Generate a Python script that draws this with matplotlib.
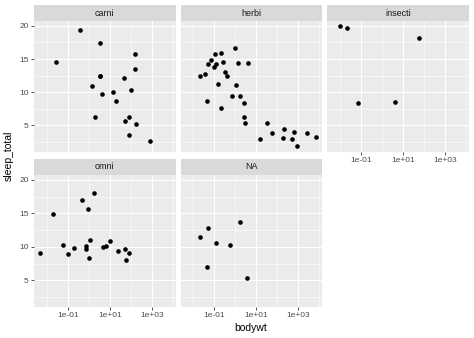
import matplotlib
matplotlib.use('Agg')
import matplotlib.pyplot as plt
from matplotlib.ticker import NullFormatter
import numpy as np

plt.rcParams['font.family'] = ['Liberation Sans', 'DejaVu Sans']

# mammal sleep data: feeding type, body weight (kg), total sleep (h)
vore = ['carni', 'omni', 'herbi', 'omni', 'herbi', 'herbi', 'carni', 'NA', 'carni', 'herbi',
        'herbi', 'herbi', 'omni', 'herbi', 'omni', 'omni', 'omni', 'carni', 'herbi', 'omni',
        'herbi', 'insecti', 'herbi', 'herbi', 'omni', 'omni', 'herbi', 'carni', 'omni', 'herbi',
        'carni', 'carni', 'herbi', 'omni', 'herbi', 'herbi', 'carni', 'omni', 'herbi', 'herbi',
        'herbi', 'herbi', 'insecti', 'herbi', 'carni', 'herbi', 'carni', 'herbi', 'herbi', 'omni',
        'carni', 'carni', 'carni', 'omni', 'NA', 'omni', 'NA', 'NA', 'carni', 'carni',
        'herbi', 'insecti', 'NA', 'herbi', 'herbi', 'omni', 'insecti', 'herbi', 'NA', 'herbi',
        'herbi', 'herbi', 'NA', 'omni', 'insecti', 'herbi', 'herbi', 'omni', 'omni', 'carni',
        'carni', 'carni', 'carni']
bodywt = [50.0, 0.48, 1.35, 0.019, 600, 3.85, 20.49, 0.045, 14.0, 14.8,
          33.5, 0.728, 4.75, 0.42, 0.06, 1.0, 0.005, 3.5, 2.95, 1.7,
          2547, 0.023, 521, 187, 0.77, 10, 0.071, 3.3, 0.2, 899.995,
          800, 85, 2.625, 62, 1.67, 6654, 0.37, 6.8, 0.053, 0.12,
          0.035, 0.022, 0.01, 0.266, 1.4, 0.21, 0.028, 2.5, 55.5, 52.2,
          162.564, 100, 161.499, 25.235, 0.55, 1.1, 0.021, 1.62, 86, 53.18,
          1.1, 60, 3.6, 0.32, 0.044, 0.743, 0.075, 0.148, 0.122, 0.92,
          0.101, 0.205, 0.048, 86.25, 4.5, 0.112, 207.501, 0.9, 0.104, 173.33,
          2, 3.38, 4.23]
sleep_total = [12.1, 17.0, 14.4, 14.9, 4.0, 14.4, 8.7, 7.0, 10.1, 3.0,
               5.3, 9.4, 10.0, 12.5, 10.3, 8.3, 9.1, 17.4, 5.3, 18.0,
               3.9, 19.7, 2.9, 3.1, 10.1, 10.9, 14.9, 12.5, 9.8, 1.9,
               2.7, 6.2, 6.3, 8.0, 9.5, 3.3, 19.4, 10.1, 14.2, 14.3,
               12.8, 12.5, 19.9, 14.6, 11.0, 7.7, 14.5, 8.4, 3.8, 9.7,
               15.8, 10.4, 13.5, 9.4, 10.3, 11.0, 11.5, 13.7, 3.5, 5.6,
               11.1, 18.1, 5.4, 13.0, 8.7, 9.6, 8.4, 11.3, 10.6, 16.6,
               13.8, 15.9, 12.8, 9.1, 8.6, 15.8, 4.4, 15.6, 8.9, 5.2,
               6.3, 12.5, 9.8]

facets = ['carni', 'herbi', 'insecti', 'omni', 'NA']
x_major = [1e-1, 1e1, 1e3]
x_labels = ['1e-01', '1e+01', '1e+03']
x_minor = [1e-2, 1e0, 1e2, 1e4]
y_major = [5, 10, 15, 20]
y_minor = [2.5, 7.5, 12.5, 17.5]

vore = np.array(vore)
bodywt = np.array(bodywt)
sleep_total = np.array(sleep_total)

# shared scales with 5% padding, log10 on x
lx = np.log10(bodywt)
pad = 0.05 * (lx.max() - lx.min())
xlim = (10 ** (lx.min() - pad), 10 ** (lx.max() + pad))
pad = 0.05 * (sleep_total.max() - sleep_total.min())
ylim = (sleep_total.min() - pad, sleep_total.max() + pad)

W, H = 474, 338
fig = plt.figure(figsize=(W / 100, H / 100), dpi=100)


def box(x0, y0, x1, y1):
    return [x0 / W, 1 - y1 / H, (x1 - x0) / W, (y1 - y0) / H]


cols = [(34, 175.5), (180.5, 322), (327, 468.5)]
rows = [(5, 20.5, 152), (158.5, 174.5, 307)]
tick_col = '#4D4D4D'

for i, f in enumerate(facets):
    r, c = divmod(i, 3)
    x0, x1 = cols[c]
    s0, s1, p1 = rows[r]

    st = fig.add_axes(box(x0, s0, x1, s1))
    st.set_facecolor('#D9D9D9')
    st.set_xticks([])
    st.set_yticks([])
    for sp in st.spines.values():
        sp.set_visible(False)
    st.text(0.5, 0.47, f, ha='center', va='center', fontsize=6.5,
            color='#1A1A1A', transform=st.transAxes)

    ax = fig.add_axes(box(x0, s1, x1, p1))
    ax.set_facecolor('#EBEBEB')
    for sp in ax.spines.values():
        sp.set_visible(False)
    ax.set_xscale('log')
    ax.set_xlim(xlim)
    ax.set_ylim(ylim)
    ax.set_xticks(x_major)
    ax.set_xticks(x_minor, minor=True)
    ax.xaxis.set_minor_formatter(NullFormatter())
    ax.set_yticks(y_major)
    ax.set_yticks(y_minor, minor=True)
    ax.grid(which='major', color='white', lw=0.8)
    ax.grid(which='minor', color='white', lw=0.4)
    ax.set_axisbelow(True)
    ax.tick_params(which='minor', length=0)
    ax.tick_params(which='major', length=2.2, width=0.6, color='#333333',
                   labelsize=6.0, labelcolor=tick_col, pad=1.5)

    if c == 0:
        ax.set_yticklabels([str(v) for v in y_major])
    else:
        ax.tick_params(axis='y', which='major', length=0)
        ax.set_yticklabels([])
    bottom = (r == 1) or (c == 2)
    if bottom:
        ax.set_xticklabels(x_labels)
    else:
        ax.tick_params(axis='x', which='major', length=0)
        ax.set_xticklabels([])

    m = vore == f
    ax.scatter(bodywt[m], sleep_total[m], s=11, color='black', linewidths=0, zorder=3)

fig.text(251 / W, 1 - 328 / H, 'bodywt', ha='center', va='center', fontsize=7.5)
fig.text(9 / W, 1 - 156 / H, 'sleep_total', ha='center', va='center',
         rotation=90, fontsize=7.5)

fig.savefig('out.png', dpi=100)
